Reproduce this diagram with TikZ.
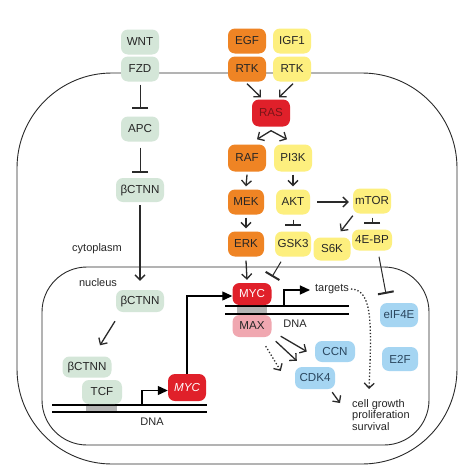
\documentclass[tikz,border=0pt]{standalone}
\usepackage{fontspec}
\setmainfont{Liberation Sans}
\usetikzlibrary{arrows.meta,calc}
\definecolor{wntg}{HTML}{D4E6D8}
\definecolor{orgc}{HTML}{EF8424}
\definecolor{yelc}{HTML}{FDEF7E}
\definecolor{redc}{HTML}{E0202A}
\definecolor{pinkc}{HTML}{F0A7B0}
\definecolor{bluec}{HTML}{A5D5F2}
\definecolor{greyc}{HTML}{B4B4B4}
\definecolor{txt}{HTML}{262626}
\definecolor{lc}{HTML}{2A2A2A}
\definecolor{rastxt}{HTML}{7A1518}
\definecolor{bluetxt}{HTML}{2A465E}
\begin{document}
\begin{tikzpicture}[x=1pt,y=-1pt,
  box/.style={rounded corners=7pt, minimum width=38pt, minimum height=25pt, inner sep=2pt,
    font=\fontsize{11.6}{13}\selectfont, text=txt},
  wnt/.style={box, fill=wntg},
  org/.style={box, fill=orgc},
  yel/.style={box, fill=yelc},
  red/.style={box, fill=redc, text=white},
  pnk/.style={box, fill=pinkc},
  blu/.style={box, fill=bluec, text=bluetxt, minimum height=22pt},
  lbl/.style={font=\fontsize{11}{11.8}\selectfont, text=txt, inner sep=0pt},
  mem/.style={draw=lc, line width=0.9pt},
  dna/.style={draw=black, line width=1.5pt},
  arr/.style={draw=lc, line width=1.3pt, -{Straight Barb[length=5pt,width=10pt]}},
  darr/.style={draw=lc, line width=1.3pt, dotted, -{Straight Barb[length=5pt,width=10pt]}},
  inh/.style={draw=lc, line width=1pt, -{Bar[width=16pt,line width=2pt]}},
  prom/.style={draw=black, line width=1.2pt, -{Triangle[length=10pt,width=9pt]}}
]
\useasboundingbox[fill=white] (0,0) rectangle (474,474);
% membranes
\draw[mem, rounded corners=95pt] (17,73) rectangle (457,464);
\draw[mem, rounded corners=45pt] (42,267) rectangle (429,445);
% grey DNA-binding patches
\fill[greyc] (86,405) rectangle (117,412);
\fill[greyc] (237,306) rectangle (267,314);
% DNA
\draw[dna] (52,405) coordinate (dlA) -- (207,405) coordinate (dlB);
\draw[dna] (52,412) coordinate (dlC) -- (207,412) coordinate (dlD);
\draw[dna] (225,306) coordinate (drA) -- (349,306) coordinate (drB);
\draw[dna] (225,314) coordinate (drC) -- (349,314) coordinate (drD);

% Wnt pathway
\node[wnt] (wnt) at (140,42) {WNT};
\node[wnt] (fzd) at (140,69) {FZD};
\node[wnt] (apc) at (140,129) {APC};
\node[wnt, minimum width=48pt, minimum height=24pt] (bct1) at (140,190) {βCTNN};
\node[wnt, minimum width=48pt, minimum height=22pt] (bct2) at (140,301) {βCTNN};
\node[wnt, minimum width=49pt, minimum height=21pt] (bct3) at (87,367) {βCTNN};
\node[wnt, minimum width=40pt, minimum height=24pt] (tcf) at (102,392) {TCF};
\node[red, minimum height=27pt] (myc1) at (187,387.5) {\itshape MYC};

% RTK pathway
\node[org] (egf) at (247,41) {EGF};
\node[org] (rtk1) at (247,69) {RTK};
\node[yel] (igf) at (292,41) {IGF1};
\node[yel] (rtk2) at (292,69) {RTK};
\node[red, text=rastxt, minimum height=27pt] (ras) at (271,113) {RAS};
\node[org, minimum height=27pt] (raf) at (247,158) {RAF};
\node[yel, minimum height=27pt] (pi3k) at (293,158) {PI3K};
\node[org, minimum width=36pt] (mek) at (246,202) {MEK};
\node[yel, minimum width=34pt] (akt) at (293,202) {AKT};
\node[org, minimum width=36pt] (erk) at (246,244) {ERK};
\node[yel, minimum width=36pt] (gsk) at (293,244) {GSK3};
\node[yel, minimum width=37pt, minimum height=23pt] (s6k) at (332,249) {S6K};
\node[yel] (mtor) at (372,201) {mTOR};
\node[yel, minimum width=40pt, minimum height=21pt] (ebp) at (372,240) {4E-BP};

% nucleus right
\node[red, minimum width=39pt, minimum height=22pt] (myc2) at (252,294) {MYC};
\node[pnk, minimum width=39pt, minimum height=22pt] (max) at (252,326) {MAX};
\node[blu, minimum width=40pt, minimum height=21pt] (ccn) at (335,351.5) {CCN};
\node[blu, minimum width=40pt] (cdk) at (315,378) {CDK4};
\node[blu, minimum width=38pt, minimum height=24pt] (eif) at (399,315) {eIF4E};
\node[blu, minimum width=36pt, minimum height=24pt] (e2f) at (400,359) {E2F};

% labels
\node[lbl] (cyto) at (97,249) {cytoplasm};
\node[lbl] (nuc) at (98,283) {nucleus};
\node[lbl] (dnaL) at (152,422) {DNA};
\node[lbl] (dnaR) at (295,324) {DNA};
\node[lbl] (targets) at (332,289) {targets};
\node[lbl, anchor=north west, align=left] (growth) at (352,399) {cell growth\\proliferation\\survival};

% Wnt connectors
\draw[inh] ($(fzd.south)+(0,3)$) -- ($(apc.north)+(0,-7)$);
\draw[inh] ($(apc.south)+(0,6)$) -- ($(bct1.north)+(0,-5)$);
\draw[arr] ($(bct1.south)+(0,3)$) -- ($(bct2.north)+(0,-9)$);
\draw[arr] ($(bct2.south)+(-25,9)$) -- ($(bct3.north)+(13,-11)$);
\coordinate (p1) at (142,405);
\draw[prom] (p1) |- ($(myc1.west)+(0,3)$);
\draw[prom] (myc1.north) |- ($(myc2.west)+(0,2)$);

% RTK connectors
\draw[arr] ($(rtk1.south)+(0,2)$) -- ($(ras.north)+(-10,-2)$);
\draw[arr] ($(rtk2.south)+(1,2)$) -- ($(ras.north)+(8,-2)$);
\draw[arr] ($(ras.south)+(0,4)$) -- ($(raf.north)+(10,-5)$);
\draw[arr] ($(ras.south)+(0,4)$) -- ($(pi3k.north)+(-6,-5)$);
\draw[arr] ($(raf.south)+(0,3)$) -- ($(mek.north)+(0,-3)$);
\draw[arr] ($(mek.south)+(0,3)$) -- ($(erk.north)+(0,-3)$);
\draw[arr] ($(pi3k.south)+(0,3)$) -- ($(akt.north)+(0,-3)$);
\draw[inh] ($(akt.south)+(0,5)$) -- ($(gsk.north)+(0,-5)$);
\draw[arr] ($(akt.east)+(7,0)$) -- ($(mtor.west)+(-4,1)$);
\draw[arr] ($(mtor.south west)+(0,2)$) -- ($(s6k.north east)+(-10,-6)$);
\draw[inh] ($(mtor.south)+(0,4)$) -- ($(ebp.north)+(0,-5)$);
\draw[arr] ($(erk.south)+(0,4)$) -- ($(myc2.north)+(-5,-3)$);
\draw[inh] ($(gsk.south)+(-12,5)$) -- ($(myc2.north)+(20,-6)$);
\draw[inh] ($(ebp.south)+(7,6)$) -- ($(eif.north)+(-13,-9)$);

% nucleus right connectors
\coordinate (p2) at (284,306);
\draw[prom] (p2) |- ($(targets.west)+(-5,1)$);
\draw[darr] ($(targets.east)+(2,0)$) .. controls (372,290) and (372,320) .. ($(growth.north west)+(17,-10)$);
\draw[arr] ($(max.south east)+(9,-1)$) -- ($(ccn.west)+(-8,0)$);
\draw[arr] ($(max.south east)+(4,4)$) -- ($(cdk.north west)+(2,-6)$);
\draw[darr] ($(max.south east)+(-6,9)$) -- ($(cdk.west)+(-14,-7)$);
\draw[arr] ($(cdk.south east)+(-3,3)$) -- ($(growth.north west)+(-12,4)$);
\end{tikzpicture}
\end{document}
